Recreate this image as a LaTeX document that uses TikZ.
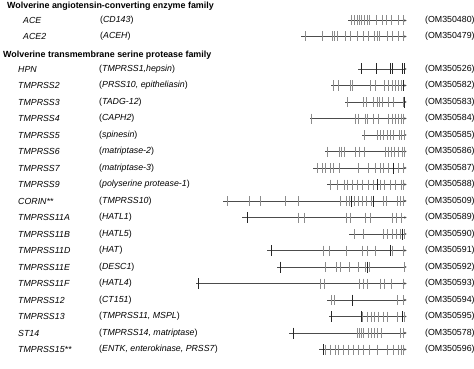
\documentclass[tikz,border=0pt]{standalone}
\usepackage{fontspec}
\setmainfont{Liberation Sans}
\usepackage{tikz}
\usetikzlibrary{
  arrows.meta,
  positioning,
}
\tikzstyle{familyhead} = [anchor=west, inner sep=0pt, font=\fontsize{8.9}{10}\selectfont\bfseries]
\tikzstyle{genename} = [anchor=west, inner sep=0pt, font=\fontsize{8.8}{10}\selectfont\itshape]
\tikzstyle{synonym} = [anchor=west, inner sep=0pt, font=\fontsize{8.8}{10}\selectfont]
\tikzstyle{accno} = [anchor=west, inner sep=0pt, font=\fontsize{8.8}{10}\selectfont]
\tikzstyle{strand} = [-{Latex[length=2.6pt,width=2.4pt]}, line width=0.55pt, draw=black!70]
\tikzstyle{exon} = [line width=0.85pt, draw=black!45]
\tikzstyle{bigexon} = [line width=1pt, draw=black!85]
\newcommand{\exons}[2]{\foreach \x in {#2}{\draw[exon] (\x,#1) ++(0,-5) -- ++(0,10);}}
\newcommand{\bigexons}[2]{\foreach \x in {#2}{\draw[bigexon] (\x,#1) ++(0,-5.5) -- ++(0,11);}}

\begin{document}
\begin{tikzpicture}[x=1pt,y=-1pt]
  \useasboundingbox[fill=white] (0,0) rectangle (474,369);

  % ACE family
  \node[familyhead] (head1) at (7,6) {Wolverine angiotensin-converting enzyme family};

  \node[genename] (ace) at (23,20.5) {ACE};
  \node[synonym] (ace-s) at (100,20.5) {(\textit{CD143})};
  \node[accno] (ace-a) at (425,20.5) {(OM350480)};
  \coordinate (ace-b) at (348,20.5); \coordinate (ace-e) at (407,20.5);
  \draw[strand] (ace-b) -- (ace-e);
  \exons{20.5}{351,354,357,359,361,364,367,369,376,382,386,391,398,403}

  \node[genename] (ace2) at (23,36.5) {ACE2};
  \node[synonym] (ace2-s) at (100,36.5) {(\textit{ACEH})};
  \node[accno] (ace2-a) at (425,36.5) {(OM350479)};
  \coordinate (ace2-b) at (301,36.5); \coordinate (ace2-e) at (407,36.5);
  \draw[strand] (ace2-b) -- (ace2-e);
  \exons{36.5}{305,322,332,334,337,345,350,357,363,368,374,377,379,387,392,398,403}

  % TTSP family
  \node[familyhead] (head2) at (3,55.5) {Wolverine transmembrane serine protease family};

  \node[genename] (hpn) at (18,69) {HPN};
  \node[synonym] (hpn-s) at (99,69) {(\textit{TMPRSS1,hepsin})};
  \node[accno] (hpn-a) at (425,69) {(OM350526)};
  \coordinate (hpn-b) at (358,69); \coordinate (hpn-e) at (407,69);
  \draw[strand] (hpn-b) -- (hpn-e);
  \bigexons{69}{361,376,390,392,402,404}

  \node[genename] (tm2) at (18,85.5) {TMPRSS2};
  \node[synonym] (tm2-s) at (99,85.5) {(\textit{PRSS10, epitheliasin})};
  \node[accno] (tm2-a) at (425,85.5) {(OM350582)};
  \coordinate (tm2-b) at (331,85.5); \coordinate (tm2-e) at (407,85.5);
  \draw[strand] (tm2-b) -- (tm2-e);
  \exons{85.5}{333,338,350,352,370,375,384,388,392,395,398,401}
  \bigexons{85.5}{403}

  \node[genename] (tm3) at (18,102) {TMPRSS3};
  \node[synonym] (tm3-s) at (99,102) {(\textit{TADG-12})};
  \node[accno] (tm3-a) at (425,102) {(OM350583)};
  \coordinate (tm3-b) at (345,102); \coordinate (tm3-e) at (407,102);
  \draw[strand] (tm3-b) -- (tm3-e);
  \exons{102}{347,363,366,373,377,379,382,388,393,403}
  \bigexons{102}{404}

  \node[genename] (tm4) at (18,118.5) {TMPRSS4};
  \node[synonym] (tm4-s) at (99,118.5) {(\textit{CAPH2})};
  \node[accno] (tm4-a) at (425,118.5) {(OM350584)};
  \coordinate (tm4-b) at (310,118.5); \coordinate (tm4-e) at (407,118.5);
  \draw[strand] (tm4-b) -- (tm4-e);
  \exons{118.5}{311,355,358,365,367,373,378,388,392,395,398,401,403}

  \node[genename] (tm5) at (18,135) {TMPRSS5};
  \node[synonym] (tm5-s) at (99,135) {(\textit{spinesin})};
  \node[accno] (tm5-a) at (425,135) {(OM350585)};
  \coordinate (tm5-b) at (362,135); \coordinate (tm5-e) at (407,135);
  \draw[strand] (tm5-b) -- (tm5-e);
  \exons{135}{364,377,380,383,387,390,393,399,401,404}

  \node[genename] (tm6) at (18,151.5) {TMPRSS6};
  \node[synonym] (tm6-s) at (99,151.5) {(\textit{matriptase-2})};
  \node[accno] (tm6-a) at (425,151.5) {(OM350586)};
  \coordinate (tm6-b) at (325,151.5); \coordinate (tm6-e) at (407,151.5);
  \draw[strand] (tm6-b) -- (tm6-e);
  \exons{151.5}{327,339,341,344,355,359,364,385,388,391,394,398,402,404}

  \node[genename] (tm7) at (18,168) {TMPRSS7};
  \node[synonym] (tm7-s) at (99,168) {(\textit{matriptase-3})};
  \node[accno] (tm7-a) at (425,168) {(OM350587)};
  \coordinate (tm7-b) at (313,168); \coordinate (tm7-e) at (407,168);
  \draw[strand] (tm7-b) -- (tm7-e);
  \exons{168}{317,322,325,330,333,339,358,368,375,380,383,388,398,403}
  \bigexons{168}{393}

  \node[genename] (tm9) at (18,184.5) {TMPRSS9};
  \node[synonym] (tm9-s) at (99,184.5) {(\textit{polyserine protease-1})};
  \node[accno] (tm9-a) at (425,184.5) {(OM350588)};
  \coordinate (tm9-b) at (327,184.5); \coordinate (tm9-e) at (407,184.5);
  \draw[strand] (tm9-b) -- (tm9-e);
  \exons{184.5}{330,337,344,347,352,357,362,368,373,380,384,390,395,401,403}
  \bigexons{184.5}{377}

  \node[genename] (corin) at (18,201) {CORIN**};
  \node[synonym] (corin-s) at (99,201) {(\textit{TMPRSS10})};
  \node[accno] (corin-a) at (425,201) {(OM350509)};
  \coordinate (corin-b) at (223,201); \coordinate (corin-e) at (407,201);
  \draw[strand] (corin-b) -- (corin-e);
  \exons{201}{227,249,260,285,298,340,346,349,354,358,362,366,371,383,386,397,400,403}
  \bigexons{201}{351,373}

  \node[genename] (tm11a) at (18,217.5) {TMPRSS11A};
  \node[synonym] (tm11a-s) at (99,217.5) {(\textit{HATL1})};
  \node[accno] (tm11a-a) at (425,217.5) {(OM350589)};
  \coordinate (tm11a-b) at (242,217.5); \coordinate (tm11a-e) at (407,217.5);
  \draw[strand] (tm11a-b) -- (tm11a-e);
  \exons{217.5}{298,304,346,350,365,370,392,396,401}
  \bigexons{217.5}{247}

  \node[genename] (tm11b) at (18,234) {TMPRSS11B};
  \node[synonym] (tm11b-s) at (99,234) {(\textit{HATL5})};
  \node[accno] (tm11b-a) at (425,234) {(OM350590)};
  \coordinate (tm11b-b) at (349,234); \coordinate (tm11b-e) at (407,234);
  \draw[strand] (tm11b-b) -- (tm11b-e);
  \exons{234}{354,363,383,387,392,396,400,404}
  \bigexons{234}{402}

  \node[genename] (tm11d) at (18,250.5) {TMPRSS11D};
  \node[synonym] (tm11d-s) at (99,250.5) {(\textit{HAT})};
  \node[accno] (tm11d-a) at (425,250.5) {(OM350591)};
  \coordinate (tm11d-b) at (267,250.5); \coordinate (tm11d-e) at (407,250.5);
  \draw[strand] (tm11d-b) -- (tm11d-e);
  \exons{250.5}{323,329,346,362,367,375,392,403}
  \bigexons{250.5}{271,390}

  \node[genename] (tm11e) at (18,267) {TMPRSS11E};
  \node[synonym] (tm11e-s) at (99,267) {(\textit{DESC1})};
  \node[accno] (tm11e-a) at (425,267) {(OM350592)};
  \coordinate (tm11e-b) at (277,267); \coordinate (tm11e-e) at (407,267);
  \draw[strand] (tm11e-b) -- (tm11e-e);
  \exons{267}{325,336,340,349,358,365,369,404}
  \bigexons{267}{280,367}

  \node[genename] (tm11f) at (18,283.5) {TMPRSS11F};
  \node[synonym] (tm11f-s) at (99,283.5) {(\textit{HATL4})};
  \node[accno] (tm11f-a) at (425,283.5) {(OM350593)};
  \coordinate (tm11f-b) at (196,283.5); \coordinate (tm11f-e) at (407,283.5);
  \draw[strand] (tm11f-b) -- (tm11f-e);
  \exons{283.5}{320,324,359,363,367,380,384,391,403}
  \bigexons{283.5}{198}

  \node[genename] (tm12) at (18,300) {TMPRSS12};
  \node[synonym] (tm12-s) at (99,300) {(\textit{CT151})};
  \node[accno] (tm12-a) at (425,300) {(OM350594)};
  \coordinate (tm12-b) at (327,300); \coordinate (tm12-e) at (407,300);
  \draw[strand] (tm12-b) -- (tm12-e);
  \exons{300}{331,334,397,403}
  \bigexons{300}{352}

  \node[genename] (tm13) at (18,316.5) {TMPRSS13};
  \node[synonym] (tm13-s) at (99,316.5) {(\textit{TMPRSS11, MSPL})};
  \node[accno] (tm13-a) at (425,316.5) {(OM350595)};
  \coordinate (tm13-b) at (329,316.5); \coordinate (tm13-e) at (407,316.5);
  \draw[strand] (tm13-b) -- (tm13-e);
  \exons{316.5}{362,367,371,374,378,383,387,397,404}
  \bigexons{316.5}{331,361,402}

  \node[genename] (st14) at (18,333) {ST14};
  \node[synonym] (st14-s) at (99,333) {(\textit{TMPRSS14, matriptase})};
  \node[accno] (st14-a) at (425,333) {(OM350578)};
  \coordinate (st14-b) at (289,333); \coordinate (st14-e) at (407,333);
  \draw[strand] (st14-b) -- (st14-e);
  \exons{333}{357,359,361,363,368,371,374,377,381,400,403}
  \bigexons{333}{293}

  \node[genename] (tm15) at (18,349.5) {TMPRSS15**};
  \node[synonym] (tm15-s) at (99,349.5) {(\textit{ENTK, enterokinase, PRSS7})};
  \node[accno] (tm15-a) at (425,349.5) {(OM350596)};
  \coordinate (tm15-b) at (319,349.5); \coordinate (tm15-e) at (407,349.5);
  \draw[strand] (tm15-b) -- (tm15-e);
  \exons{349.5}{325,330,335,338,343,348,353,358,363,369,377,387,393,398,401,403}
  \bigexons{349.5}{323}
\end{tikzpicture}
\end{document}
